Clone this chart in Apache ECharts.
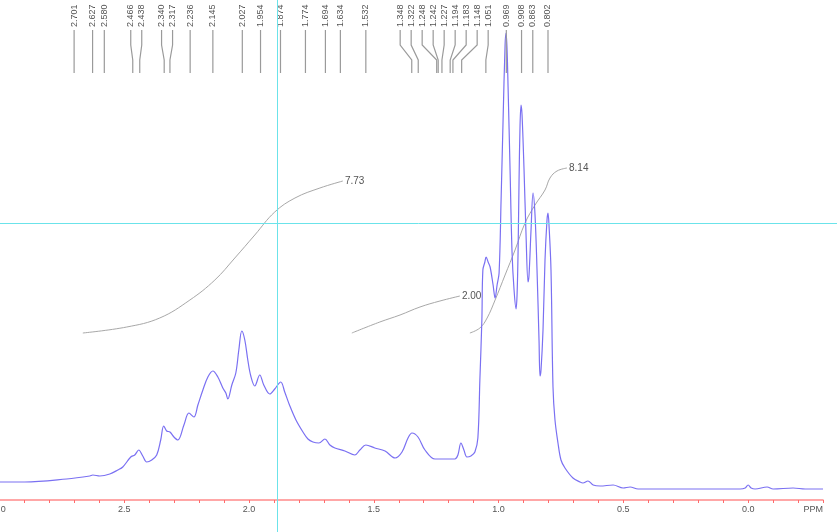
<!DOCTYPE html>
<html>
<head>
<meta charset="utf-8">
<script src="https://cdn.jsdelivr.net/npm/echarts@6/dist/echarts.min.js"></script>
<style>
html,body{margin:0;padding:0;background:#fff;}
#chart{width:837px;height:532px;}
</style>
</head>
<body>
<div id="chart"></div>
<script>
// Spectrum: chemical shift (ppm) and intensity (arbitrary units)
var shiftPpm = [3.000,2.899,2.731,2.638,2.626,2.598,2.558,2.526,2.506,2.474,2.458,2.442,2.426,2.410,2.390,2.370,2.354,2.342,2.330,2.317,2.301,2.285,2.261,2.241,2.221,2.205,2.185,2.165,2.145,2.125,2.105,2.093,2.085,2.069,2.053,2.041,2.029,2.017,2.005,1.993,1.977,1.957,1.941,1.917,1.897,1.873,1.857,1.838,1.812,1.784,1.764,1.744,1.720,1.696,1.676,1.656,1.616,1.576,1.556,1.532,1.496,1.455,1.415,1.387,1.363,1.347,1.323,1.295,1.255,1.215,1.175,1.163,1.151,1.139,1.127,1.111,1.095,1.083,1.075,1.067,1.063,1.055,1.050,1.042,1.034,1.022,1.014,1.006,0.998,0.990,0.982,0.974,0.970,0.966,0.962,0.954,0.946,0.938,0.930,0.926,0.922,0.918,0.914,0.910,0.906,0.898,0.890,0.882,0.878,0.870,0.862,0.854,0.846,0.838,0.834,0.830,0.822,0.814,0.806,0.802,0.798,0.790,0.782,0.774,0.762,0.750,0.734,0.702,0.674,0.662,0.642,0.621,0.593,0.541,0.501,0.473,0.441,0.192,0.032,0.012,0.000,-0.012,-0.028,-0.076,-0.100,-0.180,-0.229,-0.300];
var intensity = [18,18,21,24,25,24,26,30,33,43,45,50,44,38,40,45,60,74,69,68,63,60,75,87,83,95,110,123,129,123,112,107,101,115,127,150,169,160,140,124,114,125,115,106,111,118,108,95,80,68,61,58,57,61,55,52,49,45,50,55,52,49,42,48,62,67,63,50,41,41,41,45,57,50,43,44,48,62,120,180,230,238,243,238,233,215,202,215,227,300,380,455,467,450,413,330,247,210,191,205,247,320,375,395,385,330,265,218,225,270,307,285,230,160,124,130,170,240,280,287,275,230,113,80,57,40,32,22,18,17,19,15,14,15,12,13,11,11,11,12,15,12,11,13,11,12,11,11];

// Peak picks (ppm)
var peakPpm = [2.701,2.627,2.580,2.466,2.438,2.340,2.317,2.236,2.145,2.027,1.954,1.874,1.774,1.694,1.634,1.532,1.348,1.322,1.248,1.242,1.227,1.194,1.183,1.148,1.051,0.969,0.908,0.863,0.802];

// Integral curves
var integ1Ppm = [2.666,2.490,2.358,2.237,2.137,2.057,1.977,1.897,1.816,1.716,1.624];
var integ1Val = [167,173,182,200,220,242,265,288,302,312,319];
var integ2Ppm = [1.588,1.476,1.395,1.315,1.235,1.155];
var integ2Val = [167,178,185,193,199,204];
var integ3Ppm = [1.115,1.075,1.046,1.014,0.974,0.934,0.894,0.854,0.814,0.794,0.766,0.726];
var integ3Val = [167,172,182,200,225,250,277,295,310,322,329,332];
var integLabels = ['7.73','2.00','8.14'];

// Cursor crosshair position (ppm, intensity)
var cursorPos = [1.888, 277];

var chart = echarts.init(document.getElementById('chart'), null, {renderer:'canvas'});

function zip(a,b){ return a.map(function(v,i){ return [v,b[i]]; }); }
function integSeries(ppm, val, label){
  var d = zip(ppm,val).map(function(p,i){
    if(i === ppm.length-1){
      return {value:p, label:{show:true, position:'right', distance:2, formatter:label,
        color:'#555', fontSize:10, fontFamily:'Liberation Sans, Arial, sans-serif'}};
    }
    return {value:p};
  });
  return {type:'line', data:d, smooth:0.4, showSymbol:true, symbol:'circle', symbolSize:0.1,
    itemStyle:{color:'#aaa'}, lineStyle:{color:'#a8a8a8', width:1}, silent:true, z:2, animation:false};
}

var GAP = 11;
function layoutLabels(pxs){
  var idx = pxs.map(function(p,i){return i;}).sort(function(a,b){return pxs[a]-pxs[b];});
  var clusters = [];
  idx.forEach(function(i){
    clusters.push({items:[i], sum:pxs[i], start:pxs[i]});
    while(clusters.length>1){
      var last = clusters[clusters.length-1], prev = clusters[clusters.length-2];
      if(prev.start + prev.items.length*GAP > last.start){
        var items = prev.items.concat(last.items);
        var sum = prev.sum + last.sum;
        var mean = sum/items.length;
        clusters.splice(clusters.length-2, 2, {items:items, sum:sum, start:mean-(items.length-1)*GAP/2});
      } else break;
    }
  });
  var out = [];
  clusters.forEach(function(c){ c.items.forEach(function(i,k){ out[i] = c.start + k*GAP; }); });
  return out;
}

var option = {
  animation:false,
  backgroundColor:'#fff',
  grid:{left:-0.5, right:14, top:0, bottom:32, containLabel:false, outerBoundsMode:'none'},
  xAxis:{type:'value', inverse:true, min:-0.3, max:3.0, interval:0.1,
    axisLine:{show:true, onZero:false, lineStyle:{color:'#ff8a8a', width:1.5}},
    axisTick:{show:true, length:3, lineStyle:{color:'#ff6b6b', width:1}},
    splitLine:{show:false},
    axisLabel:{show:true, color:'#555', fontSize:9, margin:5, fontFamily:'Liberation Sans, Arial, sans-serif',
      showMinLabel:true, showMaxLabel:true, alignMinLabel:'right', hideOverlap:false,
      formatter:function(v){
        if(Math.abs(v+0.3)<1e-6) return 'PPM';
        var r = Math.round(v*10);
        if(r%5===0) return (r/10).toFixed(1);
        return '';
      }}
  },
  yAxis:{type:'value', min:0, max:500, show:false},
  series:[
    integSeries(integ1Ppm, integ1Val, integLabels[0]),
    integSeries(integ2Ppm, integ2Val, integLabels[1]),
    integSeries(integ3Ppm, integ3Val, integLabels[2]),
    {type:'line', data:zip(shiftPpm,intensity), smooth:0.35, showSymbol:false, z:3,
      lineStyle:{color:'#7a70f2', width:1.2}, silent:true},
    {type:'custom', data:peakPpm.map(function(p){return [p,0];}), z:4, silent:true,
      renderItem:function(params, api){
        var pxs = peakPpm.map(function(p){ return api.coord([p,0])[0]; });
        var lx = layoutLabels(pxs);
        var i = params.dataIndex;
        var px = pxs[i], x = lx[i];
        return {type:'group', children:[
          {type:'polyline', shape:{points:[[x,30],[x,45],[px,60],[px,73]]},
            style:{stroke:'#9a9a9a', lineWidth:1.2, fill:null}},
          {type:'text', x:x, y:27, rotation:Math.PI/2,
            style:{text:peakPpm[i].toFixed(3), x:0, y:0, align:'left', verticalAlign:'middle',
              fill:'#555', fontSize:9, fontFamily:'Liberation Sans, Arial, sans-serif'}}
        ]};
      }}
  ]
};
chart.setOption(option);

var cp = chart.convertToPixel({gridIndex:0}, cursorPos);
var cx = Math.round(cp[0]) + 0.5, cy = Math.round(cp[1]) + 0.5;
chart.setOption({graphic:[
  {type:'line', shape:{x1:cx, y1:0, x2:cx, y2:532}, style:{stroke:'#6be3ea', lineWidth:1}, z:100, silent:true},
  {type:'line', shape:{x1:0, y1:cy, x2:837, y2:cy}, style:{stroke:'#6be3ea', lineWidth:1}, z:100, silent:true}
]});
</script>
</body>
</html>
